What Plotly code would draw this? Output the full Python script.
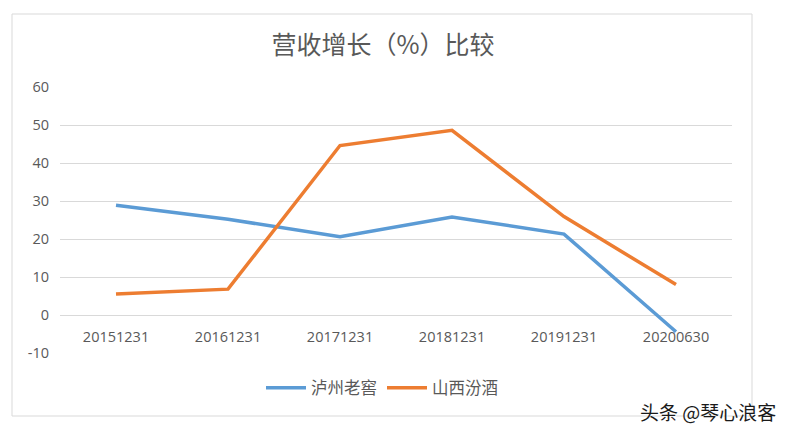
import plotly.graph_objects as go

# data
periods = ['20151231', '20161231', '20171231', '20181231', '20191231', '20200630']
luzhou = [28.9, 25.2, 20.6, 25.8, 21.3, -4.4]
fenjiu = [5.5, 6.8, 44.6, 48.6, 25.9, 8.0]
y_ticks = [-10, 0, 10, 20, 30, 40, 50, 60]

W, H = 790, 434
L, R, T, B = 60, 58, 87, 81
pw, ph = W - L - R, H - T - B

grey = '#595959'
grid = '#d9d9d9'

fig = go.Figure()
fig.add_trace(go.Scatter(x=periods, y=luzhou, mode='lines', name='泸州老窖',
                         line=dict(color='#5B9BD5', width=3.5)))
fig.add_trace(go.Scatter(x=periods, y=fenjiu, mode='lines', name='山西汾酒',
                         line=dict(color='#ED7D31', width=3.5)))

ymin, ymax = y_ticks[0], y_ticks[-1]

fig.update_layout(
    width=W, height=H,
    margin=dict(l=L, r=R, t=T, b=B),
    paper_bgcolor='white', plot_bgcolor='white',
    font=dict(family='Open Sans, Noto Sans CJK SC', color=grey, size=14),
    title=dict(text='营收增长（%）比较', x=383 / W, xref='container', xanchor='center',
               y=1 - 45 / H, yref='container', yanchor='middle',
               font=dict(size=25, color=grey, family='Noto Sans CJK SC')),
    showlegend=True,
    legend=dict(orientation='h', x=(382 - L) / pw, xanchor='center',
                y=(H - B - 388) / ph, yanchor='middle',
                font=dict(size=16.5, color=grey, family='Noto Sans CJK SC'),
                itemwidth=40, tracegroupgap=0),
    xaxis=dict(type='category', range=[-0.5, len(periods) - 0.5],
               anchor='free', position=(0 - ymin) / (ymax - ymin),
               showgrid=False, showline=False, zeroline=False, ticks='',
               ticklabelstandoff=11, tickfont=dict(size=14.5, color=grey)),
    yaxis=dict(range=[ymin, ymax], tickvals=y_ticks, ticktext=[str(v) for v in y_ticks],
               showgrid=True, gridcolor=grid,
               gridwidth=1, zeroline=False, showline=False, ticks='',
               ticklabelstandoff=10, tickfont=dict(size=14.5, color=grey)),
)

# chart border
fig.add_shape(type='rect', xref='paper', yref='paper',
              x0=(12 - L) / pw, x1=(752 - L) / pw,
              y0=(H - B - 416) / ph, y1=(H - B - 14) / ph,
              line=dict(color=grid, width=1), fillcolor='rgba(0,0,0,0)', layer='below')

# watermark
fig.add_annotation(text='头条 @琴心浪客', xref='paper', yref='paper',
                   x=(778 - L) / pw, xanchor='right', y=(H - B - 411) / ph, yanchor='middle',
                   showarrow=False,
                   font=dict(size=19, color='#1a1a1a', family='Noto Sans CJK SC',
                             shadow='1px 1px 1px white'))

fig.write_html('out.html', config={'displayModeBar': False},
               post_script="document.body.style.margin='0px';")
